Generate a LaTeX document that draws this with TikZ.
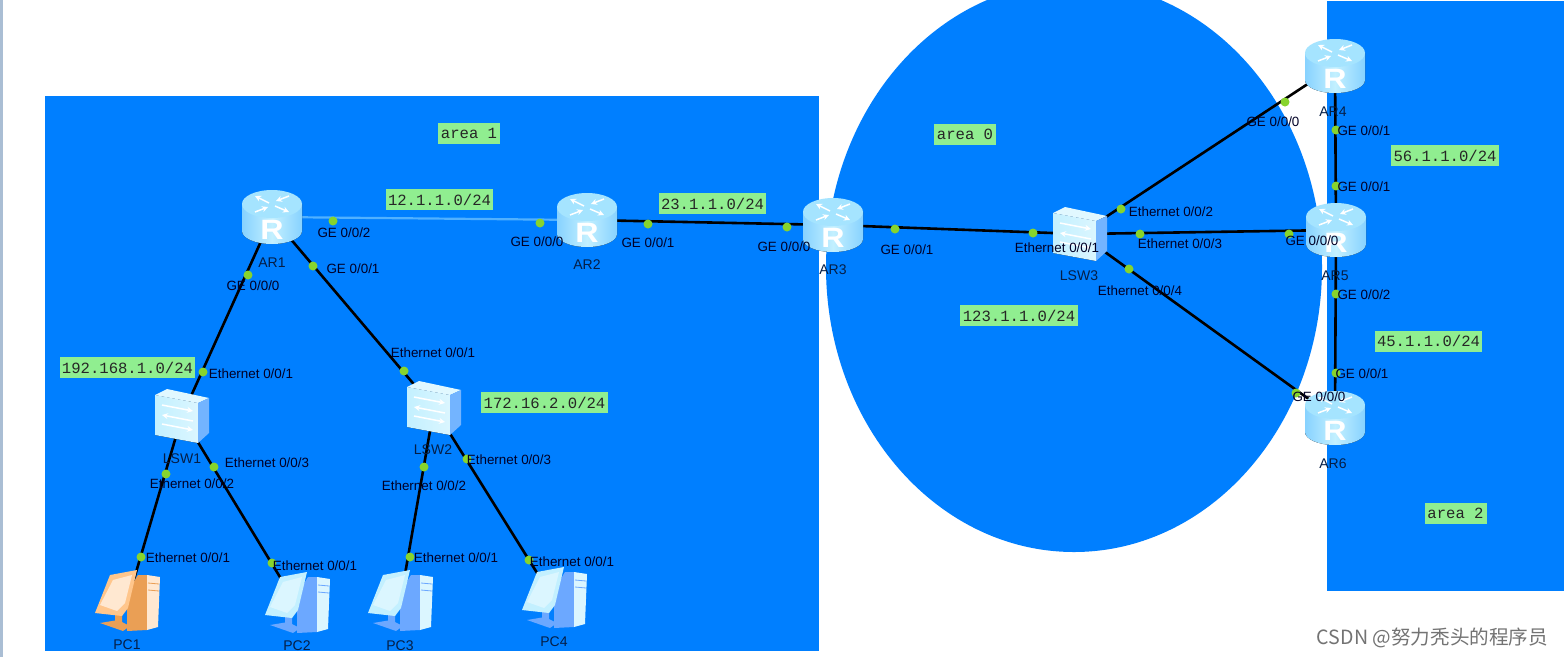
\documentclass[tikz,border=0pt]{standalone}
\usepackage{fontspec}
\usetikzlibrary{arrows.meta}
\setmainfont{Liberation Sans}
\setmonofont{Liberation Mono}
\newfontfamily\cjkmark{Noto Sans CJK SC}

\definecolor{areablue}{RGB}{0,127,255}
\definecolor{netgreen}{RGB}{144,238,144}
\definecolor{portgreen}{RGB}{135,212,45}
\definecolor{namenavy}{RGB}{5,30,70}
\definecolor{iconlight}{RGB}{195,240,255}
\definecolor{iconmid}{RGB}{135,210,255}
\definecolor{icontop}{RGB}{165,228,255}
\definecolor{iconside}{RGB}{115,180,255}
\definecolor{stripgrey}{RGB}{170,190,212}

\tikzset{
  devnode/.style={inner sep=0pt, minimum size=4pt},
  link/.style={black, line width=2.6pt},
  portdot/.style={circle, fill=portgreen, inner sep=0pt, minimum size=9pt},
  portlabel/.style={text=black!85!blue, inner sep=0pt, yshift=-0.8pt, font=\fontsize{13.4}{14}\selectfont},
  devlabel/.style={text=namenavy, inner sep=0pt, yshift=-0.8pt, font=\fontsize{14}{15}\selectfont},
  netlabel/.style={fill=netgreen, text=black!85, inner sep=0pt, minimum height=21pt, font=\ttfamily\fontsize{15.6}{16}\selectfont},
  iconarrow/.style={white, line width=1.5pt, -{Stealth[length=6pt, width=6pt]}},
  pics/router/.style={code={
    \fill [left color=iconmid, right color=iconmid, middle color=iconlight]
      (-30,-13) -- (-30,14) .. controls (-30,21) and (-17,27) .. (0,27)
      .. controls (17,27) and (30,21) .. (30,14) -- (30,-13) -- cycle;
    \fill [icontop] (0,-13) ellipse [x radius=30, y radius=14];
    \draw [iconarrow] (-3,-14) -- (-17,-21);
    \draw [iconarrow] (3,-11) -- (17,-5);
    \draw [iconarrow] (17,-21) -- (4,-16);
    \draw [iconarrow] (-17,-5) -- (-4,-10);
    \node [white, inner sep=0pt, xscale=1.15, font=\bfseries\fontsize{28}{28}\selectfont] (-R) at (0,13) {R};
  }},
  pics/switch/.style={code={
    \fill [left color=iconlight, right color=iconlight!60!white]
      (-27,-21) -- (16,-13) -- (16,27) -- (-27,19) -- cycle;
    \fill [iconlight!50!white] (-27,-21) -- (-15,-27) -- (27,-18) -- (16,-13) -- cycle;
    \fill [iconside] (16,-13) -- (27,-18) -- (27,17) -- (16,27) -- cycle;
    \draw [iconarrow] (-20,-11) -- (11,-5);
    \draw [iconarrow] (11,5) -- (-20,-1);
    \draw [iconarrow] (-20,8) -- (11,14);
  }},
  pics/pc/.style args={#1/#2/#3}{code={
    % tower behind the screen
    \fill [#2] (11,-28) -- (20,-28) -- (20,27) -- (0,28) -- (0,-10) -- cycle;
    \fill [#1] (20,-28) -- (33,-26) -- (31,24) -- (20,27) -- cycle;
    \draw [#2, line width=0.8pt] (21,-20) -- (32,-19);
    \draw [#2, line width=0.8pt] (21,-13) -- (32,-12);
    % foot and neck
    \fill [#2] (-12,8) -- (-5,8) -- (-5,20) -- (-12,18) -- cycle;
    \fill [#2] (-27,20) -- (-9,17) -- (3,23) -- (-4,28) -- cycle;
    % screen
    \fill [#3] (-32,10) -- (-17,-28) -- (10,-33) -- (1,5) -- (-5,13) -- cycle;
    \fill [#1] (-27,2) -- (-14,-23) -- (5,-28) -- (-2,0) -- (-10,8) -- cycle;
  }}
}

\begin{document}
\begin{tikzpicture}[x=1pt, y=-1pt]
  \clip (0,0) rectangle (1564,657);
  \fill [white] (0,0) rectangle (1564,657);

  % draw the three areas
  \fill [stripgrey] (0,0) rectangle (3,657);
  \fill [areablue] (45,96) rectangle (819,651);
  \fill [areablue] (1074,267) ellipse [x radius=248, y radius=285];
  \fill [areablue] (1327,1) rectangle (1564,591);

  % place devices
  \node [devnode] (AR1) at (272,217) {};
  \node [devnode] (AR2) at (587,220) {};
  \node [devnode] (AR3) at (833,225) {};
  \node [devnode] (AR4) at (1335,66) {};
  \node [devnode] (AR5) at (1336,230) {};
  \node [devnode] (AR6) at (1335,418) {};
  \node [devnode] (LSW1) at (182,416) {};
  \node [devnode] (LSW2) at (434,408) {};
  \node [devnode] (LSW3) at (1080,234) {};
  \node [devnode] (PC1) at (127,603) {};
  \node [devnode] (PC2) at (297,605) {};
  \node [devnode] (PC3) at (400,603) {};
  \node [devnode] (PC4) at (554,600) {};

  % draw links
  \draw [iconmid!60!areablue, line width=2.2pt] (AR1) -- (AR2);
  \draw [link] (AR2) -- (AR3);
  \draw [link] (AR3) -- (LSW3);
  \draw [link] (LSW3) -- (AR4);
  \draw [link] (LSW3) -- (AR5);
  \draw [link] (LSW3) -- (AR6);
  \draw [link] (AR4) -- (AR5);
  \draw [link] (AR5) -- (AR6);
  \draw [link] (AR1) -- (LSW1);
  \draw [link] (AR1) -- (LSW2);
  \draw [link] (LSW1) -- (PC1);
  \draw [link] (LSW1) -- (PC2);
  \draw [link] (LSW2) -- (PC3);
  \draw [link] (LSW2) -- (PC4);

  % draw icons
  \pic (iconAR1) at (AR1) {router};
  \pic (iconAR2) at (AR2) {router};
  \pic (iconAR3) at (AR3) {router};
  \pic (iconAR4) at (AR4) {router};
  \pic (iconAR5) at (AR5) {router};
  \pic (iconAR6) at (AR6) {router};
  \pic at (LSW1) {switch};
  \pic at (LSW2) {switch};
  \pic at (LSW3) {switch};
  \pic at (PC1) {pc={orange!18!white/orange!55!brown!75!white/orange!45!white}};
  \pic at (PC2) {pc={iconlight!60!white/iconmid!80!blue/iconlight}};
  \pic at (PC3) {pc={iconlight!60!white/iconmid!80!blue/iconlight}};
  \pic at (PC4) {pc={iconlight!60!white/iconmid!80!blue/iconlight}};

  % draw ports
  \node [portdot] (p1) at (333,221) {};
  \node [portdot] (p2) at (540,223) {};
  \node [portdot] (p3) at (648,224) {};
  \node [portdot] (p4) at (787,227) {};
  \node [portdot] (p5) at (895,229) {};
  \node [portdot] (p6) at (1033,233) {};
  \node [portdot] (p7) at (1121,209) {};
  \node [portdot] (p8) at (1285,102) {};
  \node [portdot] (p9) at (1140,234) {};
  \node [portdot] (p10) at (1289,234) {};
  \node [portdot] (p11) at (1129,269) {};
  \node [portdot] (p12) at (1296,393) {};
  \node [portdot] (p13) at (1336,130) {};
  \node [portdot] (p14) at (1336,186) {};
  \node [portdot] (p15) at (1336,294) {};
  \node [portdot] (p16) at (1336,373) {};
  \node [portdot] (p17) at (248,275) {};
  \node [portdot] (p18) at (203,372) {};
  \node [portdot] (p19) at (313,266) {};
  \node [portdot] (p20) at (404,371) {};
  \node [portdot] (p21) at (166,474) {};
  \node [portdot] (p22) at (141,557) {};
  \node [portdot] (p23) at (214,467) {};
  \node [portdot] (p24) at (272,563) {};
  \node [portdot] (p25) at (424,467) {};
  \node [portdot] (p26) at (410,557) {};
  \node [portdot] (p27) at (467,459) {};
  \node [portdot] (p28) at (529,560) {};

  % port labels
  \node [portlabel] (l1) at (344,232) {GE 0/0/2};
  \node [portlabel] (l2) at (537,241) {GE 0/0/0};
  \node [portlabel] (l3) at (648,242) {GE 0/0/1};
  \node [portlabel] (l4) at (784,246) {GE 0/0/0};
  \node [portlabel] (l5) at (907,249) {GE 0/0/1};
  \node [portlabel] (l6) at (1057,247) {Ethernet 0/0/1};
  \node [portlabel] (l7) at (1171,211) {Ethernet 0/0/2};
  \node [portlabel] (l8) at (1273,121) {GE 0/0/0};
  \node [portlabel] (l9) at (1180,243) {Ethernet 0/0/3};
  \node [portlabel] (l10) at (1312,240) {GE 0/0/0};
  \node [portlabel] (l11) at (1140,290) {Ethernet 0/0/4};
  \node [portlabel] (l12) at (1319,396) {GE 0/0/0};
  \node [portlabel] (l13) at (1364,130) {GE 0/0/1};
  \node [portlabel] (l14) at (1364,186) {GE 0/0/1};
  \node [portlabel] (l15) at (1364,294) {GE 0/0/2};
  \node [portlabel] (l16) at (1362,373) {GE 0/0/1};
  \node [portlabel] (l17) at (253,285) {GE 0/0/0};
  \node [portlabel] (l18) at (251,373) {Ethernet 0/0/1};
  \node [portlabel] (l19) at (353,268) {GE 0/0/1};
  \node [portlabel] (l20) at (433,352) {Ethernet 0/0/1};
  \node [portlabel] (l21) at (192,483) {Ethernet 0/0/2};
  \node [portlabel] (l22) at (188,557) {Ethernet 0/0/1};
  \node [portlabel] (l23) at (267,462) {Ethernet 0/0/3};
  \node [portlabel] (l24) at (315,565) {Ethernet 0/0/1};
  \node [portlabel] (l25) at (424,485) {Ethernet 0/0/2};
  \node [portlabel] (l26) at (456,557) {Ethernet 0/0/1};
  \node [portlabel] (l27) at (509,459) {Ethernet 0/0/3};
  \node [portlabel] (l28) at (572,561) {Ethernet 0/0/1};

  % device names
  \node [devlabel] (nAR1) at (272,262) {AR1};
  \node [devlabel] (nAR2) at (587,264) {AR2};
  \node [devlabel] (nAR3) at (833,269) {AR3};
  \node [devlabel] (nAR4) at (1333,111) {AR4};
  \node [devlabel] (nAR5) at (1335,275) {AR5};
  \node [devlabel] (nAR6) at (1333,463) {AR6};
  \node [devlabel] (nLSW1) at (182,458) {LSW1};
  \node [devlabel] (nLSW2) at (433,449) {LSW2};
  \node [devlabel] (nLSW3) at (1079,275) {LSW3};
  \node [devlabel] (nPC1) at (127,644) {PC1};
  \node [devlabel] (nPC2) at (297,645) {PC2};
  \node [devlabel] (nPC3) at (400,645) {PC3};
  \node [devlabel] (nPC4) at (554,641) {PC4};

  % green notes
  \node [netlabel, minimum width=62pt] (area1) at (469,133.5) {area 1};
  \node [netlabel, minimum width=62pt] (area0) at (965,134.5) {area 0};
  \node [netlabel, minimum width=62pt] (area2) at (1455.5,513.5) {area 2};
  \node [netlabel, minimum width=107pt] (net12) at (439.5,199.5) {12.1.1.0/24};
  \node [netlabel, minimum width=107pt] (net23) at (712.5,203.5) {23.1.1.0/24};
  \node [netlabel, minimum width=135pt] (net192) at (127.5,367.5) {192.168.1.0/24};
  \node [netlabel, minimum width=127pt] (net172) at (544.5,402.5) {172.16.2.0/24};
  \node [netlabel, minimum width=118pt] (net123) at (1019,315.5) {123.1.1.0/24};
  \node [netlabel, minimum width=108pt] (net56) at (1445,155.5) {56.1.1.0/24};
  \node [netlabel, minimum width=107pt] (net45) at (1428.5,341) {45.1.1.0/24};

  % watermark
  \node [text=black!55, inner sep=0pt, font=\cjkmark\fontsize{19.6}{20}\selectfont] (mark) at (1432.5,638) {CSDN @努力秃头的程序员};
\end{tikzpicture}
\end{document}
